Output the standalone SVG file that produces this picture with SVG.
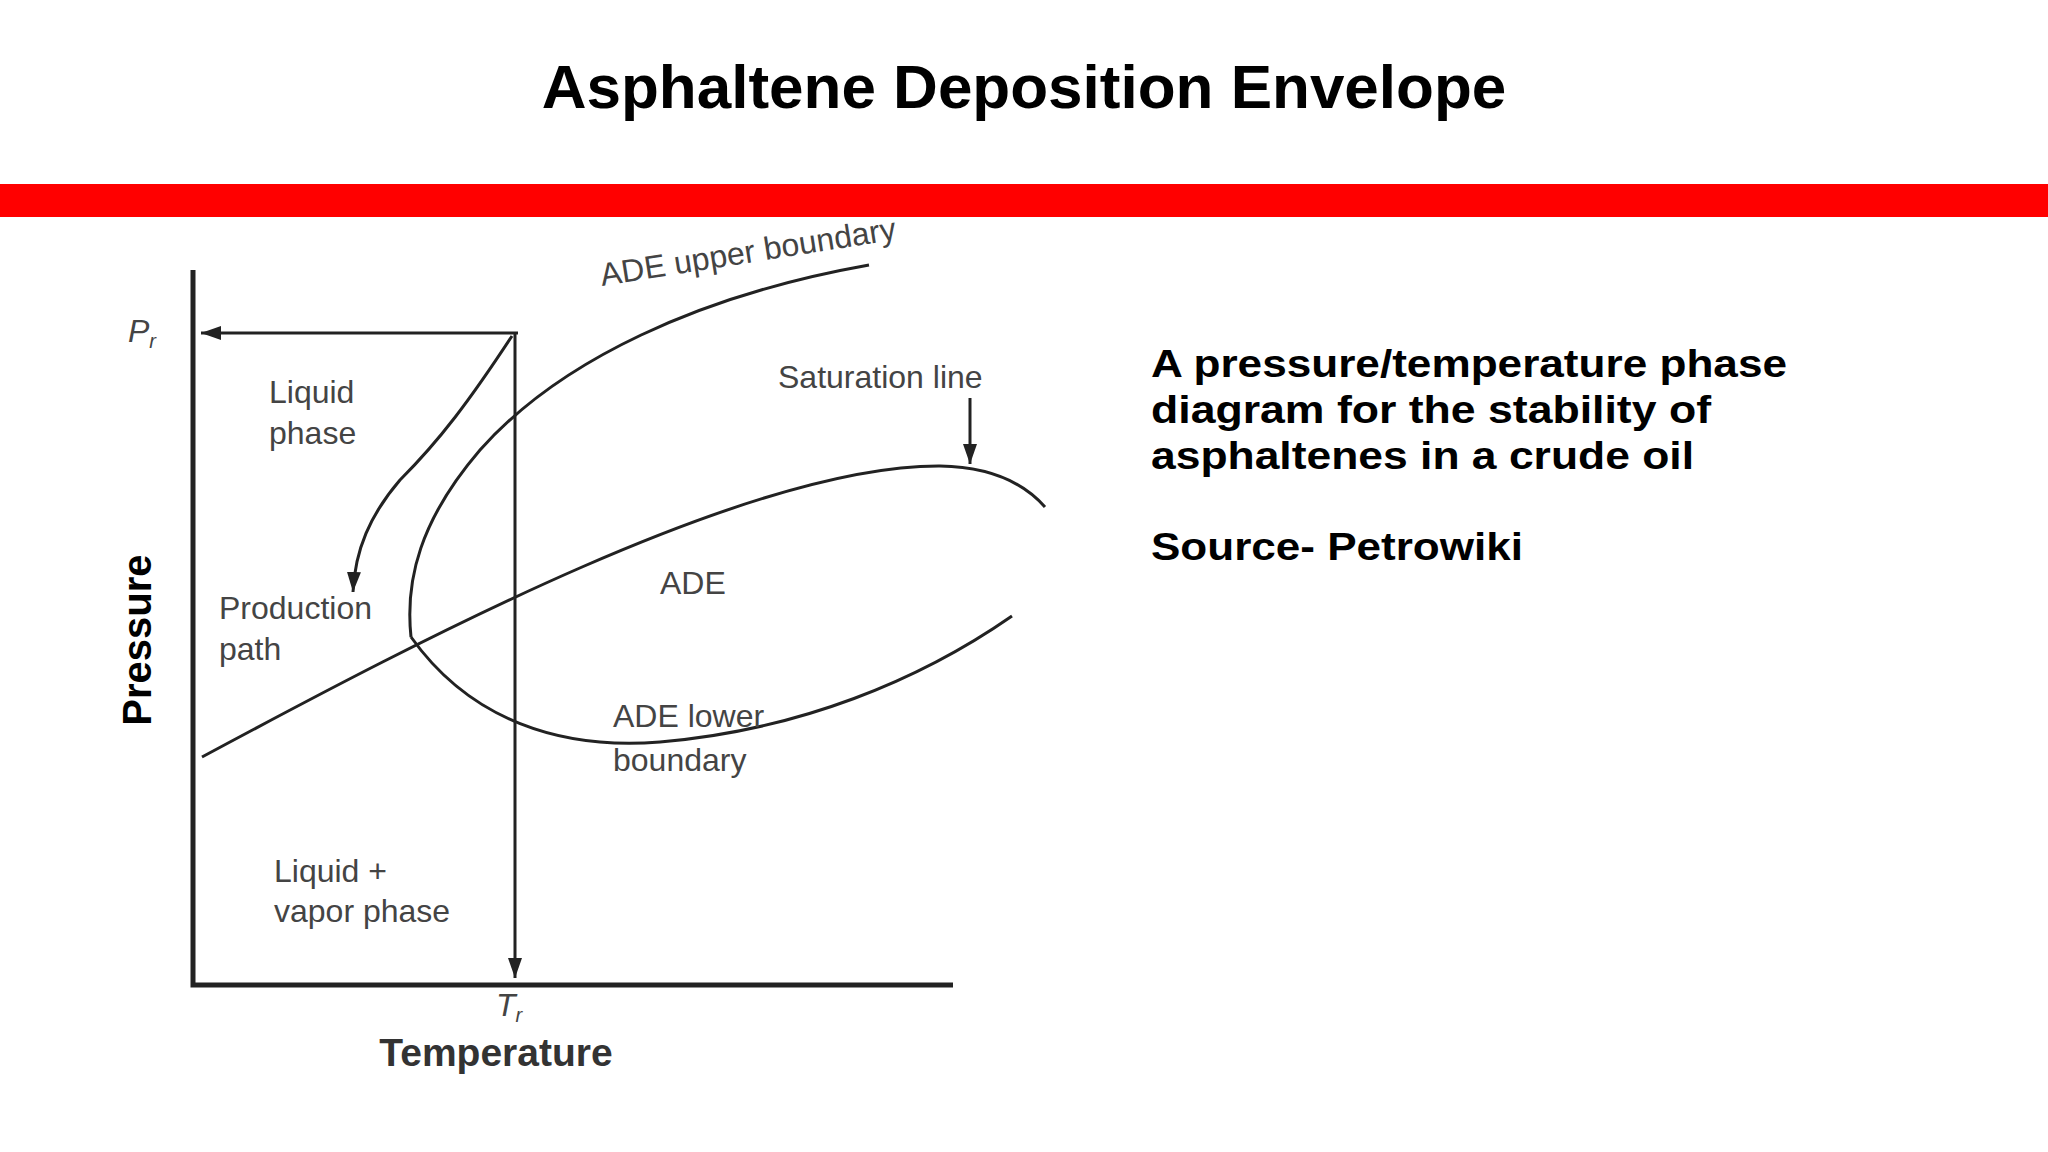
<svg xmlns="http://www.w3.org/2000/svg" width="2048" height="1152" viewBox="0 0 2048 1152">
<style>
.t{font-family:"Liberation Sans",Arial,sans-serif;fill:#444;font-size:32px}
.b{font-family:"Liberation Sans",Arial,sans-serif;font-weight:bold;fill:#000}
.c{fill:none;stroke:#222;stroke-width:3}
</style>
<defs>
<marker id="a" viewBox="0 0 20 14" refX="20" refY="7" markerWidth="20" markerHeight="14" orient="auto" markerUnits="userSpaceOnUse">
<path d="M0,0 L20,7 L0,14 z" fill="#222"/>
</marker>
</defs>
<rect width="2048" height="1152" fill="#fff"/>
<text class="b" x="1024" y="108" font-size="62" text-anchor="middle">Asphaltene Deposition Envelope</text>
<rect x="0" y="184" width="2048" height="33" fill="#ff0000"/>
<g id="axes">
<path d="M193,270 V985 H953" fill="none" stroke="#222" stroke-width="5"/>
</g>
<g id="connectors">
<path class="c" d="M518,333 H201" marker-end="url(#a)"/>
<path class="c" d="M515,333 V978" marker-end="url(#a)"/>
<path class="c" stroke-width="2" d="M512,336 C470,400 440,440 400,480 C370,515 355,550 353,592" marker-end="url(#a)"/>
<path class="c" stroke-width="2" d="M970,398 V464" marker-end="url(#a)"/>
</g>
<g id="curves">
<path class="c" d="M869,265 C700,295 560,360 480,450 C420,520 405,580 411,637"/>
<path class="c" d="M411,637 C470,720 560,750 660,742 C800,730 920,680 1012,616"/>
<path class="c" stroke-width="2" d="M202,757 C420,640 750,465 940,466 C1000,467 1030,490 1045,507"/>
</g>
<g id="labels">
<text class="t" x="602" y="286" transform="rotate(-9 602 286)">ADE upper boundary</text>
<text class="t" x="778" y="388">Saturation line</text>
<text class="t" x="269" y="403">Liquid</text>
<text class="t" x="269" y="444">phase</text>
<text class="t" x="219" y="619">Production</text>
<text class="t" x="219" y="660">path</text>
<text class="t" x="660" y="594">ADE</text>
<text class="t" x="613" y="727">ADE lower</text>
<text class="t" x="613" y="771">boundary</text>
<text class="t" x="274" y="882">Liquid +</text>
<text class="t" x="274" y="922">vapor phase</text>
<text class="t" x="128" y="342" font-style="italic">P<tspan font-size="20" dy="6">r</tspan></text>
<text class="t" x="496" y="1016" font-style="italic">T<tspan font-size="20" dy="6">r</tspan></text>
<text class="b" x="137" y="640" font-size="40" fill="#333" text-anchor="middle" transform="rotate(-90 137 640)" dy="14">Pressure</text>
<text class="b" x="496" y="1066" font-size="39" text-anchor="middle" style="fill:#333">Temperature</text>
</g>
<g id="desc" class="b" font-size="38">
<text x="1151" y="377" textLength="636" lengthAdjust="spacingAndGlyphs">A pressure/temperature phase</text>
<text x="1151" y="423" textLength="560" lengthAdjust="spacingAndGlyphs">diagram for the stability of</text>
<text x="1151" y="469" textLength="543" lengthAdjust="spacingAndGlyphs">asphaltenes in a crude oil</text>
<text x="1151" y="560" textLength="372" lengthAdjust="spacingAndGlyphs">Source- Petrowiki</text>
</g>
</svg>
